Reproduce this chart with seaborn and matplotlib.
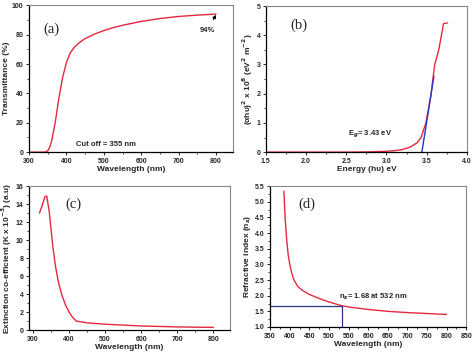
import matplotlib
matplotlib.use("Agg")
import matplotlib.pyplot as plt
import seaborn as sns
import numpy as np
import pandas as pd
from matplotlib.ticker import AutoMinorLocator, FormatStrFormatter

# ---------------- data ----------------
# (a) Transmittance
wl_a = [300, 320, 340, 345, 350, 355, 360, 370, 380, 390, 400, 410, 420, 430, 440, 450, 475, 500, 525, 550, 600, 650, 700, 750, 800]
trans = [0, 0, 0, 0.2, 1.0, 3.0, 7, 20, 37, 51, 61, 67.5, 71, 73.6, 75.6, 77.3, 80.4, 82.8, 84.8, 86.4, 89.0, 91.0, 92.4, 93.3, 94]

# (b) Tauc plot
energy = [1.5, 2.0, 2.5, 2.8, 3.0, 3.1, 3.2, 3.3, 3.38, 3.43, 3.49, 3.55, 3.6, 3.65, 3.71, 3.76]
tauc = [0, 0, 0, 0.01, 0.03, 0.05, 0.09, 0.18, 0.32, 0.5, 1.0, 1.9, 3.0, 3.5, 4.4, 4.42]
fit_e = [3.44, 3.59]
fit_y = [0.0, 2.6]

# (c) Extinction coefficient
wl_c = [318, 325, 333, 338, 345, 350, 355, 362, 370, 380, 390, 400, 410, 420, 450, 500, 550, 600, 650, 700, 750, 800]
ext = [13.0, 13.8, 14.8, 14.9, 13.2, 11.2, 9.3, 7.2, 5.4, 3.9, 2.8, 2.0, 1.4, 1.0, 0.8, 0.65, 0.55, 0.45, 0.4, 0.35, 0.32, 0.3]

# (d) Refractive index
wl_d = [385, 388, 392, 396, 400, 405, 410, 420, 430, 440, 450, 475, 500, 532, 550, 600, 650, 700, 750, 800]
nref = [5.34, 4.5, 3.8, 3.3, 3.0, 2.72, 2.52, 2.3, 2.19, 2.11, 2.04, 1.91, 1.8, 1.68, 1.64, 1.56, 1.5, 1.46, 1.43, 1.40]
ns_wl, ns_val = 532, 1.68

RED = "#e4283f"
BLUE = "#2a36c8"
NAVY = "#2b3a8c"

# ---------------- style ----------------
sns.set_style("ticks")
plt.rcParams['font.family'] = ['Liberation Sans', 'DejaVu Sans']
plt.rcParams['font.weight'] = 'bold'
plt.rcParams['axes.labelweight'] = 'bold'

fig = plt.figure(figsize=(4.74, 3.53), dpi=100)
fig.patch.set_facecolor("white")

TICK = 5
LAB = 6
PAN = 10.5
ANN = 5.5

def line(ax, x, y, color, lw=1.0):
    sns.lineplot(x=x, y=y, ax=ax, color=color, linewidth=lw, estimator=None, sort=False)

def style(ax):
    for s in ['top', 'right']:
        ax.spines[s].set_color('#888888')
        ax.spines[s].set_linewidth(0.8)
    for s in ['left', 'bottom']:
        ax.spines[s].set_color('black')
        ax.spines[s].set_linewidth(0.9)
    ax.tick_params(axis='both', which='major', direction='out', length=2.5, width=0.7,
                   labelsize=TICK, pad=1.5, top=False, right=False)
    ax.tick_params(axis='both', which='minor', direction='out', length=1.5, width=0.6,
                   top=False, right=False)
    ax.xaxis.set_minor_locator(AutoMinorLocator(2))
    ax.yaxis.set_minor_locator(AutoMinorLocator(2))
    for lbl in ax.get_xticklabels() + ax.get_yticklabels():
        lbl.set_fontweight('bold')

def panel(ax, x, y, s):
    ax.text(x, y, s, transform=ax.transAxes, fontsize=PAN, family='Liberation Serif',
            fontweight='normal', va='center')

# (a)
ax = fig.add_axes([0.0612, 0.569, 0.430, 0.416])
line(ax, wl_a, trans, RED)
ax.set_xlim(300, 845)
ax.set_ylim(0, 100)
ax.set_xticks([300, 400, 500, 600, 700, 800])
ax.set_yticks([0, 20, 40, 60, 80, 100])
ax.set_xlabel("Wavelength (nm)", fontsize=LAB, labelpad=1)
ax.set_ylabel("Transmittance (%)", fontsize=LAB, labelpad=1)
panel(ax, 0.07, 0.84, "(a)")
ax.text(425, 5.5, "Cut off = 355 nm", fontsize=ANN, fontweight='bold', va='center')
ax.annotate("94%", xy=(800, 93.5), xytext=(777, 83), fontsize=ANN, fontweight='bold',
            ha='center', va='center',
            arrowprops=dict(arrowstyle='-|>', color='black', lw=0.7, mutation_scale=5,
                            shrinkA=3, shrinkB=0))
style(ax)

# (b)
ax = fig.add_axes([0.561, 0.569, 0.424, 0.414])
line(ax, energy, tauc, RED)
line(ax, fit_e, fit_y, BLUE)
ax.set_xlim(1.5, 4.0)
ax.set_ylim(0, 5)
ax.set_xticks([1.5, 2.0, 2.5, 3.0, 3.5, 4.0])
ax.set_yticks([0, 1, 2, 3, 4, 5])
ax.set_xlabel("Energy (h\u03c5) eV", fontsize=LAB, labelpad=1)
ax.set_ylabel("(\u03b1h\u03c5)$^2$ x 10$^8$ (eV$^2$ m$^{-2}$)", fontsize=LAB, labelpad=1)
panel(ax, 0.12, 0.87, "(b)")
ax.text(2.52, 0.62, "E$_g$= 3.43 eV", fontsize=ANN, fontweight='bold', va='center')
style(ax)

# (c)
ax = fig.add_axes([0.0612, 0.065, 0.424, 0.408])
line(ax, wl_c, ext, RED)
ax.set_xlim(289, 846)
ax.set_ylim(0, 16)
ax.set_xticks([300, 400, 500, 600, 700, 800])
ax.set_yticks([0, 2, 4, 6, 8, 10, 12, 14, 16])
ax.set_xlabel("Wavelength (nm)", fontsize=LAB, labelpad=1)
ax.set_ylabel("Extinction co-efficient (K x 10$^{-3}$) (a.u)", fontsize=LAB, labelpad=1)
panel(ax, 0.18, 0.87, "(c)")
style(ax)

# (d)
ax = fig.add_axes([0.570, 0.0737, 0.4135, 0.399])
line(ax, wl_d, nref, RED)
line(ax, [350, ns_wl], [ns_val, ns_val], NAVY, 0.9)
line(ax, [ns_wl, ns_wl], [1.0, ns_val], NAVY, 0.9)
ax.set_xlim(350, 850)
ax.set_ylim(1.0, 5.5)
ax.set_xticks(list(range(350, 851, 50)))
ax.set_yticks([1.0, 1.5, 2.0, 2.5, 3.0, 3.5, 4.0, 4.5, 5.0, 5.5])
ax.yaxis.set_major_formatter(FormatStrFormatter('%.1f'))
ax.set_xlabel("Wavelength (nm)", fontsize=LAB, labelpad=1)
ax.set_ylabel("Refractive index (n$_s$)", fontsize=LAB, labelpad=1)
panel(ax, 0.145, 0.87, "(d)")
ax.text(526, 1.98, "n$_s$= 1.68 at 532 nm", fontsize=ANN, fontweight='bold', va='center')
style(ax)

fig.savefig("out.png", dpi=100, facecolor="white")
